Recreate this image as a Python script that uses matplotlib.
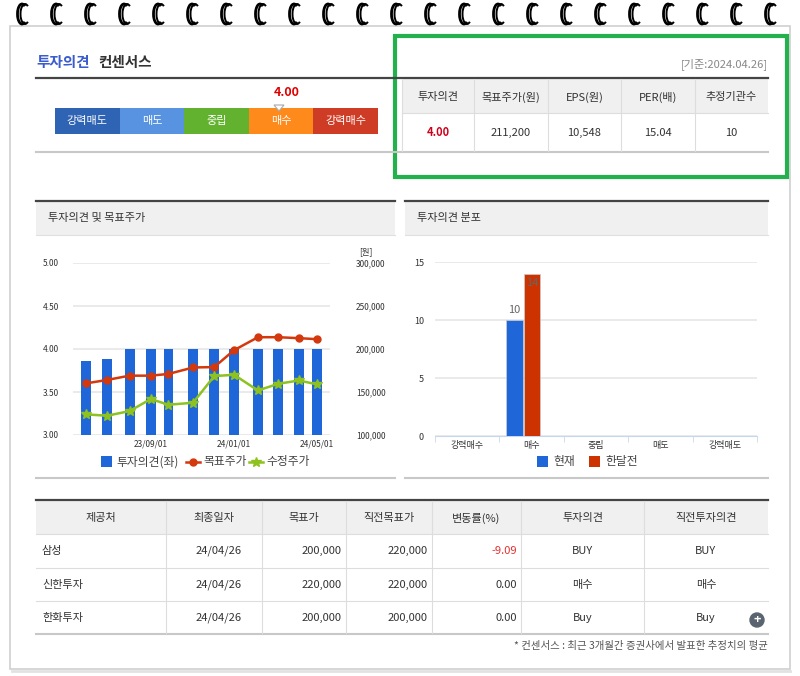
import matplotlib
matplotlib.use("Agg")
import matplotlib.pyplot as plt
import matplotlib.dates as mdates
from matplotlib.patches import Rectangle, Arc, Polygon, Circle
import numpy as np

plt.rcParams['font.family'] = ['Noto Sans CJK JP', 'DejaVu Sans']

# ---------------- data ----------------
gauge_labels = ['강력매도', '매도', '중립', '매수', '강력매수']
gauge_colors = ['#2f63b3', '#5893e2', '#63b22f', '#ff8a1c', '#cf3c26']
consensus_value = '4.00'
summary_headers = ['투자의견', '목표주가(원)', 'EPS(원)', 'PER(배)', '추정기관수']
summary_values = ['4.00', '211,200', '10,548', '15.04', '10']
base_date = '[기준:2024.04.26]'

op_dates = ['2023-05-29', '2023-06-29', '2023-08-01', '2023-09-01', '2023-09-27', '2023-11-02',
            '2023-12-03', '2024-01-01', '2024-02-05', '2024-03-06', '2024-04-05', '2024-05-02']
opinion = [3.86, 3.88, 4.00, 4.00, 4.00, 4.00, 4.00, 4.00, 4.00, 4.00, 4.00, 4.00]
target_price = [160000, 164000, 169000, 169000, 171000, 178500, 179000, 198600, 213700, 213700, 212600, 211400]
revised_price = [124000, 122400, 127800, 141800, 135200, 137500, 168500, 170000, 151800, 159600, 163400, 158800]
date_ticks = ['2023-09-01', '2024-01-01', '2024-05-01']
date_tick_labels = ['23/09/01', '24/01/01', '24/05/01']

dist_cats = ['강력매수', '매수', '중립', '매도', '강력매도']
dist_now = [0, 10, 0, 0, 0]
dist_month_ago = [0, 14, 0, 0, 0]

tbl_headers = ['제공처', '최종일자', '목표가', '직전목표가', '변동률(%)', '투자의견', '직전투자의견']
tbl_provider = ['삼성', '신한투자', '한화투자']
tbl_date = ['24/04/26', '24/04/26', '24/04/26']
tbl_target = ['200,000', '220,000', '200,000']
tbl_prev_target = ['220,000', '220,000', '200,000']
tbl_change = ['-9.09', '0.00', '0.00']
tbl_opinion = ['BUY', '매수', 'Buy']
tbl_prev_opinion = ['BUY', '매수', 'Buy']
footnote = '* 컨센서스 : 최근 3개월간 증권사에서 발표한 추정치의 평균'

# ---------------- figure ----------------
W, H = 800, 676
fig = plt.figure(figsize=(W / 100, H / 100), dpi=100)
bg = fig.add_axes([0, 0, 1, 1])
bg.set_xlim(0, W)
bg.set_ylim(H, 0)
bg.axis('off')

def px_axes(x0, y0, x1, y1):
    return fig.add_axes([x0 / W, 1 - y1 / H, (x1 - x0) / W, (y1 - y0) / H])

# page frame
bg.add_patch(Rectangle((10, 26), 780, 643, fill=False, ec='#cfcfcf', lw=1.2))
bg.plot([12, 790], [671, 671], color='#e2e2e2', lw=2)
# spiral rings
for i in range(23):
    cx = 22 + 34 * i
    for off, lw in [(0, 2.0), (3, 1.4)]:
        bg.add_patch(Arc((cx + off, 14), 9, 20, theta1=70, theta2=290, color='black', lw=lw))

# title
bg.text(36, 62, '투자의견', color='#3a5ccf', fontsize=10.5, fontweight='bold', va='center')
bg.text(98, 62, '컨센서스', color='#333333', fontsize=10.5, fontweight='bold', va='center')
bg.plot([36, 768], [78, 78], color='#444444', lw=1.6)
bg.plot([36, 402], [152, 152], color='#c8c8c8', lw=1.5)

# gauge
gx0, gw = 55, 64.6
for i, (lab, c) in enumerate(zip(gauge_labels, gauge_colors)):
    bg.add_patch(Rectangle((gx0 + i * gw, 108), gw, 26, color=c, lw=0))
    bg.text(gx0 + i * gw + gw / 2, 121, lab, color='white', fontsize=8, ha='center', va='center')
bg.text(287, 93, consensus_value, color='#e00000', fontsize=9, fontweight='bold', ha='center', va='center')
bg.add_patch(Polygon([[274, 105], [284, 105], [279, 111]], closed=True, fc='white', ec='#aaaaaa', lw=0.8))

# summary table
bg.text(768, 64, base_date, color='#888888', fontsize=8, ha='right', va='center')
cols = [402, 474, 548, 621, 695, 768]
bg.add_patch(Rectangle((402, 79), 366, 34, color='#f0f0f0', lw=0))
bg.plot([402, 768], [113, 113], color='#dddddd', lw=0.8)
bg.plot([402, 768], [152, 152], color='#c8c8c8', lw=1.5)
for c in cols[:-1]:
    bg.plot([c, c], [79, 151], color='#dddddd', lw=0.8)
for i, (h, v) in enumerate(zip(summary_headers, summary_values)):
    xc = (cols[i] + cols[i + 1]) / 2
    bg.text(xc, 97, h, fontsize=8, ha='center', va='center', color='#333333')
    if i == 0:
        bg.text(xc, 133, v, fontsize=8, ha='center', va='center', color='#d0001b', fontweight='bold')
    else:
        bg.text(xc, 133, v, fontsize=8, ha='center', va='center', color='#333333')
bg.add_patch(Rectangle((395, 36), 392, 141, fill=False, ec='#22b14c', lw=3))

# panel headers
for (x0, x1, title) in [(36, 395, '투자의견 및 목표주가'), (405, 768, '투자의견 분포')]:
    bg.add_patch(Rectangle((x0, 201), x1 - x0, 34, color='#f0f0f0', lw=0))
    bg.plot([x0, x1], [201, 201], color='#444444', lw=1.6)
    bg.plot([x0, x1], [235, 235], color='#e0e0e0', lw=0.8)
    bg.plot([x0, x1], [478, 478], color='#c8c8c8', lw=1.5)
    bg.text(x0 + 12, 218, title, fontsize=8, va='center', color='#333333')

# ---------------- left chart ----------------
ax = px_axes(73, 263, 330, 435)
dn = mdates.datestr2num(op_dates)
ax.bar(dn, opinion, width=14.5, color='#1f66d9', zorder=3)
ax.set_ylim(3.0, 5.0)
ax.set_yticks([3.0, 3.5, 4.0, 4.5, 5.0])
ax.set_yticklabels(['3.00', '3.50', '4.00', '4.50', '5.00'])
x_left = mdates.datestr2num('2023-09-01') - 113.8
x_right = mdates.datestr2num('2023-09-01') + 262.5
ax.set_xlim(x_left, x_right)
ax.set_xticks(mdates.datestr2num(date_ticks))
ax.set_xticklabels(date_tick_labels)
ax.grid(axis='y', color='#e6e6e6', lw=1.2, zorder=0)
for s in ax.spines.values():
    s.set_visible(False)
ax.tick_params(axis='both', length=0, labelsize=6, colors='#333333')
ax.tick_params(axis='y', pad=10)
ax.tick_params(axis='x', pad=3)
ax2 = ax.twinx()
ax2.set_ylim(100000, 300000)
ax2.set_yticks([100000, 150000, 200000, 250000, 300000])
ax2.set_yticklabels([f'{v:,}' for v in [100000, 150000, 200000, 250000, 300000]], ha='right')
ax2.tick_params(axis='y', length=0, labelsize=6, colors='#333333', pad=40)
for s in ax2.spines.values():
    s.set_visible(False)
ax2.plot(dn, target_price, color='#d4380d', marker='o', ms=5, lw=1.8, zorder=4)
ax2.plot(dn, revised_price, color='#8dc21f', marker='*', ms=7, lw=1.8, zorder=4)
bg.text(372, 252, '[원]', fontsize=6, ha='right', va='center', color='#333333')
# legend
bg.add_patch(Rectangle((101, 456), 11, 11, color='#1f66d9', lw=0))
bg.text(116, 462, '투자의견(좌)', fontsize=8.5, va='center', color='#444444')
bg.plot([186, 200], [462, 462], color='#d4380d', lw=1.8)
bg.plot([193], [462], color='#d4380d', marker='o', ms=5)
bg.text(203, 462, '목표주가', fontsize=8.5, va='center', color='#444444')
bg.plot([249, 263], [462, 462], color='#8dc21f', lw=1.8)
bg.plot([256], [462], color='#8dc21f', marker='*', ms=7)
bg.text(266, 462, '수정주가', fontsize=8.5, va='center', color='#444444')

# ---------------- right chart ----------------
bx = px_axes(435, 262, 757, 436)
xi = np.arange(len(dist_cats))
bx.bar(xi - 0.265, dist_now, width=0.25, color='#1f66d9', ec='#cccccc', lw=0.5, zorder=3)
bx.bar(xi + 0.01, dist_month_ago, width=0.25, color='#cc3300', ec='#cccccc', lw=0.5, zorder=3)
bx.set_xlim(-0.5, 4.5)
bx.set_ylim(0, 15)
bx.set_yticks([0, 5, 10, 15])
bx.set_xticks(xi)
bx.set_xticklabels(dist_cats)
bx.grid(axis='y', color='#e6e6e6', lw=1.2, zorder=0)
for s in ['top', 'right', 'left']:
    bx.spines[s].set_visible(False)
bx.spines['bottom'].set_color('#c8d8ec')
bx.tick_params(axis='both', length=0, labelsize=6.5, colors='#333333')
bx.tick_params(axis='y', pad=8)
bx.set_xticks(np.arange(-0.5, 5, 1), minor=True)
bx.tick_params(axis='x', which='minor', length=4, color='#c8d8ec')
for i in range(len(dist_cats)):
    if dist_now[i] > 0:
        bx.text(i - 0.265, dist_now[i] + 0.4, str(dist_now[i]), ha='center', va='bottom', fontsize=8, color='#666666')
    if dist_month_ago[i] > 0:
        bx.text(i + 0.01, dist_month_ago[i] - 0.4, str(dist_month_ago[i]), ha='center', va='top', fontsize=8, color='#666666')
bg.add_patch(Rectangle((537, 456), 11, 11, color='#1f66d9', lw=0))
bg.text(553, 462, '현재', fontsize=8.5, va='center', color='#444444')
bg.add_patch(Rectangle((589, 456), 11, 11, color='#cc3300', lw=0))
bg.text(605, 462, '한달전', fontsize=8.5, va='center', color='#444444')

# ---------------- bottom table ----------------
tc = [36, 166, 262, 346, 432, 521, 644, 768]
bg.add_patch(Rectangle((36, 501), 732, 33, color='#f0f0f0', lw=0))
bg.plot([36, 768], [500, 500], color='#444444', lw=1.6)
for y in [534, 568, 601]:
    bg.plot([36, 768], [y, y], color='#dddddd', lw=0.8)
bg.plot([36, 768], [634, 634], color='#c8c8c8', lw=1.5)
for c in tc[1:-1]:
    bg.plot([c, c], [501, 633], color='#dddddd', lw=0.8)
for i, h in enumerate(tbl_headers):
    bg.text((tc[i] + tc[i + 1]) / 2, 518, h, fontsize=8, ha='center', va='center', color='#333333')
row_y = [551, 585, 618]
for r in range(3):
    y = row_y[r]
    bg.text(42, y, tbl_provider[r], fontsize=8, va='center', color='#333333')
    bg.text((tc[1] + tc[2]) / 2 + 5, y, tbl_date[r], fontsize=8, ha='center', va='center', color='#333333')
    bg.text(tc[3] - 4, y, tbl_target[r], fontsize=8, ha='right', va='center', color='#333333')
    bg.text(tc[4] - 4, y, tbl_prev_target[r], fontsize=8, ha='right', va='center', color='#333333')
    chg_col = '#e53030' if tbl_change[r].startswith('-') else '#333333'
    bg.text(tc[5] - 4, y, tbl_change[r], fontsize=8, ha='right', va='center', color=chg_col)
    bg.text((tc[5] + tc[6]) / 2, y, tbl_opinion[r], fontsize=8, ha='center', va='center', color='#333333')
    bg.text((tc[6] + tc[7]) / 2, y, tbl_prev_opinion[r], fontsize=8, ha='center', va='center', color='#333333')
bg.add_patch(Circle((757, 620), 7, color='#5a6470'))
bg.text(757, 620, '+', color='white', fontsize=9, fontweight='bold', ha='center', va='center')
bg.text(768, 646, footnote, fontsize=7.5, ha='right', va='center', color='#555555')

fig.savefig('out.png', dpi=100)
